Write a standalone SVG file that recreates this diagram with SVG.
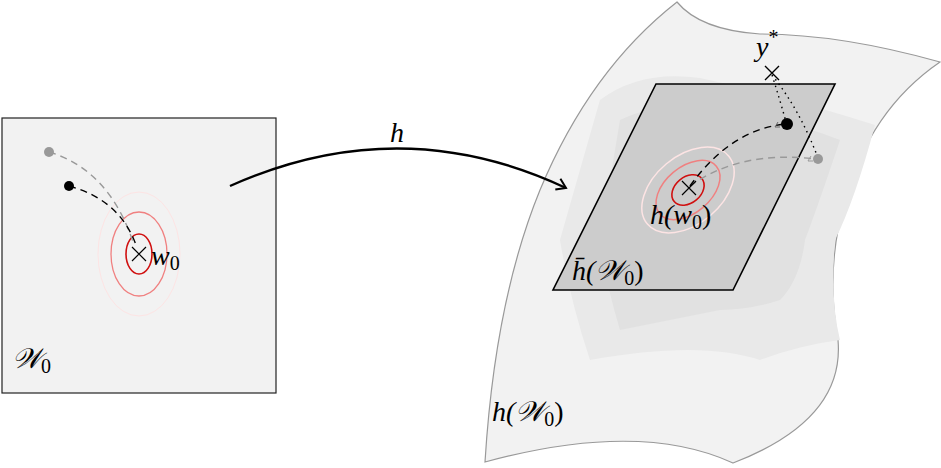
<svg xmlns="http://www.w3.org/2000/svg" width="941" height="468" viewBox="0 0 941 468">
<defs>
<style>
.t{font-family:"Liberation Serif","DejaVu Serif",serif;font-style:italic;fill:#000}
.d{fill:none;stroke-dasharray:7,5;stroke-width:1.4}
</style>
<marker id="ah" markerWidth="14" markerHeight="14" refX="10" refY="7" orient="auto" markerUnits="userSpaceOnUse"><path d="M1,1 L10,7 L1,13" fill="none" stroke="#000" stroke-width="2"/></marker>
</defs>
<g id="left">
<rect x="2" y="118" width="274" height="275" fill="#f2f2f2" stroke="#222" stroke-width="1.2"/>
<ellipse cx="139" cy="254" rx="41" ry="62" fill="none" stroke="#fde4e4" stroke-width="1"/>
<ellipse cx="139" cy="254" rx="28" ry="42" fill="none" stroke="#f08080" stroke-width="1.3"/>
<ellipse cx="139" cy="254" rx="13" ry="20" fill="none" stroke="#d01010" stroke-width="1.6"/>
<path class="d" d="M49,152 Q110,170 134,245" stroke="#999"/>
<path class="d" d="M69,186 Q120,200 136,245" stroke="#000"/>
<circle cx="49" cy="152" r="5" fill="#999"/>
<circle cx="69" cy="186" r="5" fill="#000"/>
<path d="M132,247 L146,261 M146,247 L132,261" stroke="#000" stroke-width="1.2"/>
<text class="t" x="151" y="265" font-size="28">w<tspan font-size="20" font-style="normal" dy="5">0</tspan></text>
<text class="t" x="12" y="368" font-size="28">𝒲<tspan font-size="20" font-style="normal" dy="5">0</tspan></text>
</g>
<g id="right">
<path d="M677,2 Q700,30 760,34 Q840,34 940,62 Q870,110 845,200 Q825,270 838,340 Q845,420 733,463 Q640,420 485,462 Q495,300 540,190 Q590,70 677,2 Z" fill="#f2f2f2" stroke="#999" stroke-width="1.2"/>
<path d="M600,100 Q640,70 700,78 Q780,95 875,125 Q855,200 835,240 Q830,300 840,340 Q800,345 760,360 Q700,340 590,360 Q570,300 560,240 Z" fill="#e9e9e9"/>
<path d="M620,120 Q660,100 720,110 Q790,120 840,140 Q820,200 805,240 Q800,280 780,300 Q750,310 720,310 Q670,320 620,330 Q605,280 600,240 Z" fill="#e1e1e1"/>
<path d="M656,84 L835,84 L733,290 L553,290 Z" fill="#cccccc" stroke="#000" stroke-width="1.6"/>
<g transform="rotate(-40 688 190)">
<ellipse cx="688" cy="190" rx="53" ry="34" fill="none" stroke="#fde4e4" stroke-width="1.5"/>
<ellipse cx="688" cy="190" rx="37" ry="23" fill="none" stroke="#f08080" stroke-width="1.5"/>
<ellipse cx="688" cy="190" rx="18" ry="13" fill="none" stroke="#d01010" stroke-width="1.6"/>
</g>
<path class="d" d="M690,186 Q740,150 816,159" stroke="#999"/>
<path class="d" d="M690,186 Q730,130 785,124" stroke="#000"/>
<path d="M772,75 Q780,100 786,122 M772,75 Q800,110 818,158" fill="none" stroke="#000" stroke-width="1.4" stroke-dasharray="1.5,4"/>
<path d="M778,122 l-3,5 l5,0" fill="none" stroke="#666" stroke-width="1"/>
<path d="M811,156 l-3,5 l5,0" fill="none" stroke="#999" stroke-width="1"/>
<circle cx="787" cy="124" r="6" fill="#000"/>
<circle cx="818" cy="159" r="5" fill="#999"/>
<path d="M682,181 L696,195 M696,181 L682,195" stroke="#000" stroke-width="1.2"/>
<path d="M765,66 L779,80 M779,66 L765,80" stroke="#000" stroke-width="1.4"/>
<text class="t" x="756" y="56" font-size="28">y<tspan font-size="20" font-style="normal" dy="-12">*</tspan></text>
<text class="t" x="650" y="224" font-size="28">h(w<tspan font-size="20" font-style="normal" dy="5">0</tspan><tspan dy="-5" font-style="normal">)</tspan></text>
<text class="t" x="572" y="280" font-size="28">h̄(𝒲<tspan font-size="20" font-style="normal" dy="5">0</tspan><tspan dy="-5" font-style="normal">)</tspan></text>
<text class="t" x="492" y="421" font-size="28">h(𝒲<tspan font-size="20" font-style="normal" dy="5">0</tspan><tspan dy="-5" font-style="normal">)</tspan></text>
</g>
<g id="connectors">
<path d="M230,186 Q400,110 566,188" fill="none" stroke="#000" stroke-width="2.4" marker-end="url(#ah)"/>
<text class="t" x="390" y="142" font-size="28">h</text>
</g>
</svg>
